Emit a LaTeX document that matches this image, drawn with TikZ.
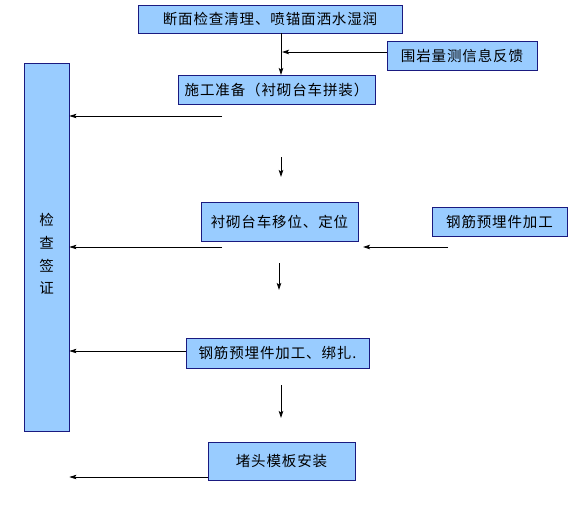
\documentclass[tikz,border=0pt]{standalone}
\usepackage{fontspec}
\newfontfamily\cjk[LetterSpace=6]{Noto Sans CJK SC}
\usetikzlibrary{arrows.meta}
\definecolor{boxfill}{HTML}{99CCFF}
\definecolor{boxline}{HTML}{1A1A80}
\tikzset{
  box/.style={draw=boxline, fill=boxfill, line width=0.8pt, inner sep=0pt,
    font=\cjk\fontsize{14.5}{16}\selectfont, anchor=center},
  arr/.style={draw=black, line width=0.8pt, -{Stealth[length=7pt,width=4.5pt,inset=1.5pt]}}
}
\begin{document}
\begin{tikzpicture}[x=1pt,y=-1pt]
\useasboundingbox (0,0) rectangle (585,506);
% boxes
\node[box, minimum width=264pt, minimum height=28pt] (b1) at (270,19) {断面检查清理、喷锚面洒水湿润};
\node[box, minimum width=150pt, minimum height=29pt] (wy) at (462,55.5) {围岩量测信息反馈};
\node[box, minimum width=197pt, minimum height=29pt] (b2) at (276.5,89.5) {施工准备（衬砌台车拼装）};
\node[box, minimum width=45pt, minimum height=368pt] (chk) at (46.5,247) {};
\node[align=center, inner sep=0pt, font=\cjk\fontsize{14.5}{22.7}\selectfont] (chkt) at (46.5,254) {检\\查\\签\\证};
\node[box, minimum width=157pt, minimum height=39pt] (b3) at (279.5,221.5) {衬砌台车移位、定位};
\node[box, minimum width=135pt, minimum height=29pt] (gj) at (499.5,221.5) {钢筋预埋件加工};
\node[box, minimum width=183pt, minimum height=30pt] (b4) at (277.5,353) {钢筋预埋件加工、绑扎.};
\node[box, minimum width=147pt, minimum height=38pt] (b5) at (281.5,461) {堵头模板安装};
% coordinates
\coordinate (v1a) at (281,33);
\coordinate (v1b) at (281,75);
\coordinate (w1) at (387,52);
\coordinate (w2) at (282,52);
\coordinate (v2a) at (281,157);
\coordinate (v2b) at (281,177);
\coordinate (v3a) at (279,263);
\coordinate (v3b) at (279,290);
\coordinate (v4a) at (281,385);
\coordinate (v4b) at (281,418);
\coordinate (l1) at (222,116);
\coordinate (l2) at (222,247);
\coordinate (l3) at (186,351);
\coordinate (l4) at (208,477);
\coordinate (r1) at (448,247);
\coordinate (r2) at (363,247);
% connectors
\draw[arr] (v1a) -- (v1b);
\draw[arr] (w1) -- (w2);
\draw[arr] (v2a) -- (v2b);
\draw[arr] (v3a) -- (v3b);
\draw[arr] (v4a) -- (v4b);
\draw[arr] (l1) -- (l1 -| chk.east);
\draw[arr] (l2) -- (l2 -| chk.east);
\draw[arr] (l3) -- (l3 -| chk.east);
\draw[arr] (l4) -- (l4 -| chk.east);
\draw[arr] (r1) -- (r2);
\end{tikzpicture}
\end{document}
